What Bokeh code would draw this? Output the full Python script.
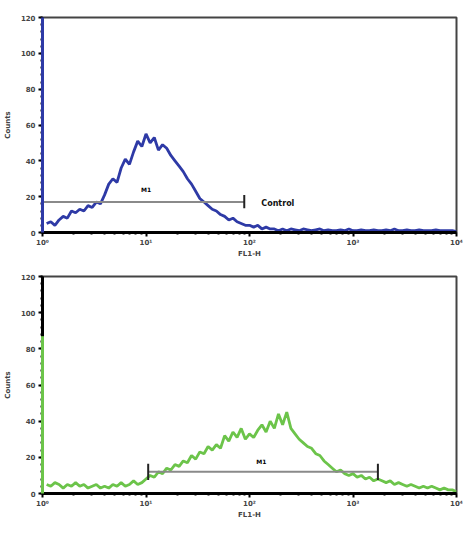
import numpy as np
from bokeh.plotting import figure
from bokeh.layouts import column
from bokeh.models import FixedTicker, Range1d
from bokeh.core.properties import value
from bokeh.embed import file_html
from bokeh.resources import INLINE

# ---- data (counts per channel, channels spaced 0.04 decade from 10^0 to 10^4) ----
control_counts = [130, 5, 6, 4, 7, 9, 8, 12, 11, 13, 12, 15, 14, 17, 16, 21, 27, 30, 28, 36,
                  41, 38, 45, 51, 48, 55, 50, 53, 46, 49, 47, 43, 40, 37, 34, 30, 27, 23, 19, 17,
                  15, 13, 12, 10, 9, 7, 8, 6, 5, 4, 4, 3, 4, 2, 3, 2, 2, 1, 2, 1,
                  2, 1.5, 1, 2, 1.5, 1, 1.5, 2, 1, 1.5, 1, 1, 1.5, 1, 2, 1, 1, 1.5, 1, 1,
                  1.5, 1, 1, 1.5, 1, 2, 1, 1, 1.5, 1, 1, 1.5, 1, 1, 1, 1.5, 1, 1, 1, 1, 0.5]
sample_counts = [87, 5, 4, 6, 5, 3, 5, 4, 6, 4, 5, 3, 4, 5, 3, 4, 3, 5, 4, 6,
                 4, 5, 7, 5, 6, 8, 10, 9, 12, 11, 14, 13, 16, 15, 18, 17, 21, 19, 23, 22,
                 26, 24, 27, 25, 32, 29, 34, 31, 36, 30, 33, 31, 35, 38, 34, 40, 36, 44, 38, 45,
                 36, 33, 30, 28, 26, 25, 22, 21, 18, 16, 14, 12, 13, 11, 10, 11, 9, 10, 8, 9,
                 7, 8, 7, 6, 7, 5, 6, 5, 4, 5, 4, 3, 4, 3, 4, 3, 2, 3, 2, 2, 1]

y_ticks = [0, 20, 40, 60, 80, 100, 120]
x_ticks = [1, 10, 100, 1000, 10000]
x_tick_labels = {1: "10\u2070", 10: "10\u00b9", 100: "10\u00b2", 1000: "10\u00b3", 10000: "10\u2074"}
Y_MAX = 120

# marker gates
top_gate_x = [1, 89]
top_gate_y = 17
bottom_gate_x = [10.5, 1740]
bottom_gate_y = 12

BLUE = "#2e3aa6"
GREEN = "#6cc44a"


def make_fig(counts, color, height, border_top):
    p = figure(width=466, height=height, x_axis_type="log", output_backend="svg",
               toolbar_location=None, x_range=Range1d(1, 10000), y_range=Range1d(0, Y_MAX),
               min_border_left=42, min_border_right=10, min_border_top=border_top,
               min_border_bottom=30)
    n = len(counts)
    ch = 10 ** (np.arange(n) * 4.0 / (n - 1))
    # first channel (off-scale events) drawn as a spike along the axis, clipped to the range
    p.segment(x0=[ch[0]], y0=[0], x1=[ch[0]], y1=[min(counts[0], Y_MAX)], line_color=color,
              line_width=3, level="overlay")
    p.line(ch[1:], counts[1:], line_color=color, line_width=2.8)
    p.grid.visible = False
    p.outline_line_color = "#444444"
    p.outline_line_width = 2
    p.background_fill_color = "white"
    p.border_fill_color = "white"
    for ax in (p.xaxis, p.yaxis):
        ax.axis_line_color = "black"
        ax.axis_line_width = 3
        ax.major_tick_line_color = "black"
        ax.major_tick_line_width = 2
        ax.major_tick_out = 4
        ax.major_tick_in = 0
        ax.minor_tick_line_color = "black"
        ax.minor_tick_line_width = 2
        ax.minor_tick_out = 2
        ax.minor_tick_in = 0
        ax.major_label_text_font = "DejaVu Sans"
        ax.major_label_text_font_style = "bold"
        ax.major_label_text_font_size = "7px"
        ax.axis_label_text_font = "DejaVu Sans"
        ax.axis_label_text_font_style = "bold"
        ax.axis_label_text_font_size = "7px"
    p.yaxis.ticker = FixedTicker(ticks=y_ticks, minor_ticks=list(range(0, 121, 4)))
    p.xaxis.ticker = FixedTicker(ticks=x_ticks,
                                 minor_ticks=[m * d for d in [1, 10, 100, 1000] for m in range(2, 10)])
    p.xaxis.major_label_overrides = x_tick_labels
    p.yaxis.axis_label = "Counts"
    p.xaxis.axis_label = "FL1-H"
    p.xaxis.axis_label_standoff = 0
    p.yaxis.axis_label_standoff = 6
    p.xaxis.major_label_standoff = 2
    p.yaxis.major_label_standoff = 3
    return p


p1 = make_fig(control_counts, BLUE, 262, 17)
p1.line(top_gate_x, [top_gate_y, top_gate_y], line_color="#8a8a8a", line_width=2)
p1.segment(x0=[top_gate_x[1]], y0=[top_gate_y - 3.5], x1=[top_gate_x[1]], y1=[top_gate_y + 4],
           line_color="#222222", line_width=2)
p1.text(x=[10], y=[22], text=["M1"], text_font=value("DejaVu Sans"), text_font_style="bold",
        text_font_size="6px", text_align="center", text_baseline="bottom", text_color="black")
p1.text(x=[130], y=[16], text=["Control"], text_font=value("DejaVu Sans"), text_font_style="bold",
        text_font_size="8px", text_align="left", text_baseline="middle", text_color="#111111")

p2 = make_fig(sample_counts, GREEN, 261, 14)
p2.line(bottom_gate_x, [bottom_gate_y, bottom_gate_y], line_color="#8a8a8a", line_width=2)
p2.segment(x0=bottom_gate_x, y0=[bottom_gate_y - 4.5] * 2, x1=bottom_gate_x,
           y1=[bottom_gate_y + 4.5] * 2, line_color="#222222", line_width=2)
p2.text(x=[130], y=[15.5], text=["M1"], text_font=value("DejaVu Sans"), text_font_style="bold",
        text_font_size="6px", text_align="center", text_baseline="bottom", text_color="black")

layout = column(p1, p2, spacing=0)
open("out.html", "w").write(file_html(layout, INLINE))
